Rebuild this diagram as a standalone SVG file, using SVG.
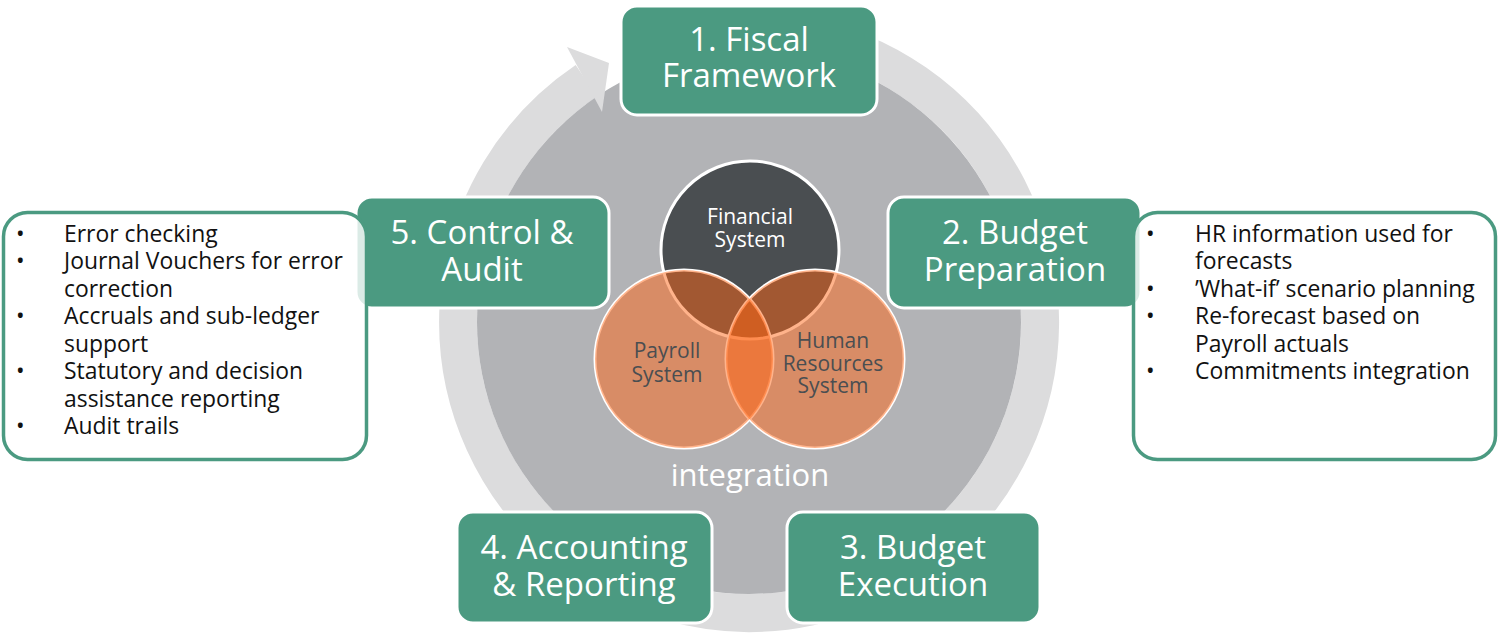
<svg xmlns="http://www.w3.org/2000/svg" width="1499" height="633" viewBox="0 0 1499 633">
<style>
.box{fill:#4b9a81;stroke:#ffffff;stroke-width:3}
.bt{font-family:"Open Sans","Liberation Sans",sans-serif;font-size:33px;fill:#ffffff;text-anchor:middle}
.list{fill:#ffffff;fill-opacity:0.8;stroke:#4b9a81;stroke-width:3.5}
.lt{font-family:"Open Sans","Liberation Sans",sans-serif;font-size:22.9px;fill:#111111}
.ct{font-family:"Open Sans","Liberation Sans",sans-serif;font-size:21px;text-anchor:middle}
.orange{fill:#ff6313;fill-opacity:0.49}
.ring{fill:none;stroke:#ffffff;stroke-width:3}
</style>
<g id="cycle">
<path d="M799.5,35.4 A291,291 0 1 1 586.3,80.8" fill="none" stroke="#dcdcdd" stroke-width="38"/>
<circle cx="749" cy="322" r="272" fill="#b2b3b6"/>
<polygon points="567,47 609,63 602,112" fill="#dcdcdd"/>
</g>
<g id="venn">
<circle cx="750" cy="250" r="89" fill="#4a4e51"/>
<circle class="ring" cx="750" cy="250" r="89"/>
<circle class="ring" cx="684" cy="359" r="89"/>
<circle class="ring" cx="815" cy="359" r="89"/>
<circle class="orange" cx="684" cy="359" r="89"/>
<circle class="orange" cx="815" cy="359" r="89"/>
<text class="ct" fill="#ffffff"><tspan x="750" y="224">Financial</tspan><tspan x="750" y="247">System</tspan></text>
<text class="ct" fill="#4a4e51"><tspan x="667" y="358">Payroll</tspan><tspan x="667" y="382">System</tspan></text>
<text class="ct" fill="#4a4e51"><tspan x="833" y="348">Human</tspan><tspan x="833" y="371">Resources</tspan><tspan x="833" y="393">System</tspan></text>
<text x="750" y="486" font-family="'Open Sans','Liberation Sans',sans-serif" font-size="31" fill="#ffffff" text-anchor="middle">integration</text>
</g>
<g id="n1"><rect class="box" x="621" y="6" width="256" height="109" rx="16"/><text class="bt"><tspan x="749" y="51">1. Fiscal</tspan><tspan x="749" y="87">Framework</tspan></text></g>
<g id="n2"><rect class="box" x="888" y="197" width="253" height="111" rx="16"/><text class="bt"><tspan x="1015" y="244">2. Budget</tspan><tspan x="1015" y="281">Preparation</tspan></text></g>
<g id="n3"><rect class="box" x="787" y="512" width="253" height="111" rx="16"/><text class="bt"><tspan x="913" y="559">3. Budget</tspan><tspan x="913" y="596">Execution</tspan></text></g>
<g id="n4"><rect class="box" x="457" y="512" width="255" height="111" rx="16"/><text class="bt"><tspan x="584" y="559">4. Accounting</tspan><tspan x="584" y="596">&amp; Reporting</tspan></text></g>
<g id="n5"><rect class="box" x="356" y="197" width="253" height="111" rx="16"/><text class="bt"><tspan x="482" y="244">5. Control &amp;</tspan><tspan x="482" y="281">Audit</tspan></text></g>
<g id="list5">
<rect class="list" x="3.5" y="212.5" width="363" height="247" rx="24"/>
<text class="lt">
<tspan x="16" y="242">•</tspan><tspan x="64" y="242">Error checking</tspan>
<tspan x="16" y="269">•</tspan><tspan x="64" y="269">Journal Vouchers for error</tspan>
<tspan x="64" y="297">correction</tspan>
<tspan x="16" y="324">•</tspan><tspan x="64" y="324">Accruals and sub-ledger</tspan>
<tspan x="64" y="352">support</tspan>
<tspan x="16" y="379">•</tspan><tspan x="64" y="379">Statutory and decision</tspan>
<tspan x="64" y="407">assistance reporting</tspan>
<tspan x="16" y="434">•</tspan><tspan x="64" y="434">Audit trails</tspan>
</text>
</g>
<g id="list2">
<rect class="list" x="1133.5" y="212.5" width="362" height="247" rx="24"/>
<text class="lt">
<tspan x="1146" y="242">•</tspan><tspan x="1195" y="242">HR information used for</tspan>
<tspan x="1195" y="269">forecasts</tspan>
<tspan x="1146" y="297">•</tspan><tspan x="1195" y="297">’What-if’ scenario planning</tspan>
<tspan x="1146" y="324">•</tspan><tspan x="1195" y="324">Re-forecast based on</tspan>
<tspan x="1195" y="352">Payroll actuals</tspan>
<tspan x="1146" y="379">•</tspan><tspan x="1195" y="379">Commitments integration</tspan>
</text>
</g>
<g id="connectors"></g>
</svg>
